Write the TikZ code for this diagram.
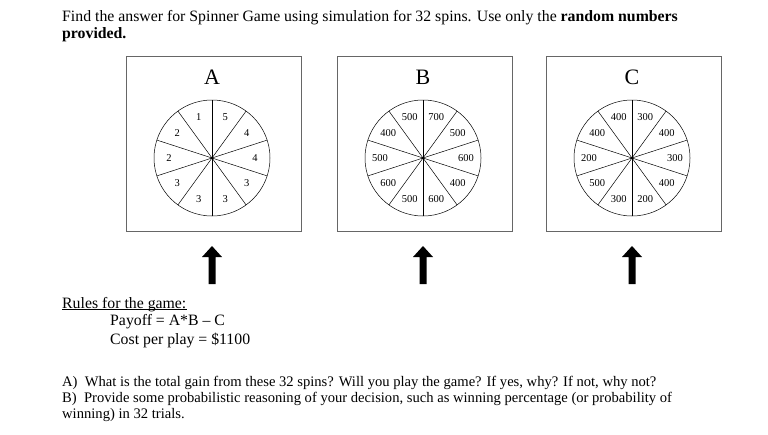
\documentclass[tikz,border=0pt]{standalone}
\usepackage{fontspec}
\setmainfont{Liberation Serif}
\tikzset{
 boxf/.style={draw=black!60, line width=0.6pt},
 lbl/.style={font=\fontsize{10.5}{11}\selectfont},
 title/.style={font=\fontsize{22}{24}\selectfont},
 txt/.style={anchor=west, inner sep=0, font=\fontsize{15.8}{18}\selectfont},
 txtb/.style={anchor=west, inner sep=0, font=\fontsize{14.6}{17}\selectfont},
 upar/.style={fill=black}
}
\newcommand{\spinner}[4]{%
 \begin{scope}[shift={(#1,158)}]
  \draw[boxf] (-86,-102) rectangle (89,73);
  \node[title] (#4) at (0,-81) {#2};
  \draw[line width=0.5pt] (0,0) circle (58);
  \foreach \a in {90,54,18,-18,-54,-90,-126,-162,162,126} \draw[line width=0.5pt] (0,0) -- (-\a:58);
  \fill (0,0) circle (1.2);
  \foreach \t [count=\i from 0] in {#3} {
    \pgfmathsetmacro\ang{36*\i-108}
    \node[lbl] at (\ang:43) {\t};
  }
  \fill[upar] (-3.5,126) -- (-3.5,99) -- (-10,99) -- (0,88) -- (10,99) -- (3.5,99) -- (3.5,126) -- cycle;
 \end{scope}}
\begin{document}
\begin{tikzpicture}[x=1pt,y=-1pt]
\useasboundingbox (0,0) rectangle (768,434);
\fill[white] (0,0) rectangle (768,434);
\node[txt] (q1) at (62,18) {Find the answer for Spinner Game using simulation for 32 spins. Use only the \textbf{random numbers}};
\node[txt] (q2) at (62,35) {\textbf{provided.}};
\spinner{212}{A}{1,5,4,4,3,3,3,3,2,2}{la}
\spinner{423}{B}{500,700,500,600,400,600,500,600,500,400}{lb}
\spinner{632}{C}{400,300,400,300,400,200,300,500,200,400}{lc}
\node[txt] (r0) at (62,305) {Rules for the game:};
\draw[line width=0.6pt] ([yshift=3pt]r0.south west) -- ([yshift=3pt]r0.south east);
\node[txt] (r1) at (110,322) {Payoff = A*B – C};
\node[txt] (r2) at (110,340) {Cost per play = \$1100};
\node[txtb] (a1) at (62,383) {A)\ \ What is the total gain from these 32 spins? Will you play the game? If yes, why? If not, why not?};
\node[txtb] (b1) at (62,399) {B)\ \ Provide some probabilistic reasoning of your decision, such as winning percentage (or probability of};
\node[txtb] (b2) at (62,415) {winning) in 32 trials.};
\end{tikzpicture}
\end{document}
